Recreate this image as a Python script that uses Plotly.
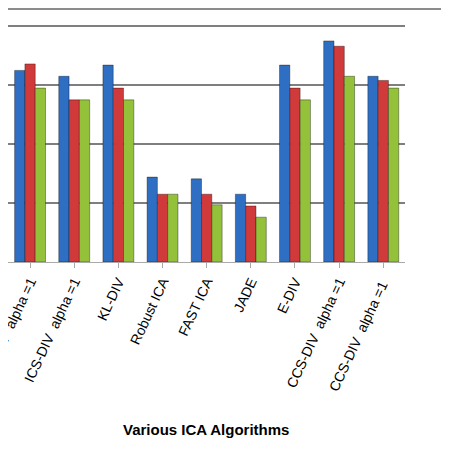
import plotly.graph_objects as go

categories = ["CS-DIV  alpha =1", "ICS-DIV  alpha =1", "KL-DIV", "Robust ICA", "FAST ICA",
              "JADE", "E-DIV", "CCS-DIV  alpha =1", "CCS-DIV  alpha =1 "]
s1 = [3.25, 3.15, 3.34, 1.44, 1.41, 1.15, 3.34, 3.75, 3.15]
s2 = [3.36, 2.75, 2.95, 1.15, 1.15, 0.95, 2.95, 3.66, 3.08]
s3 = [2.95, 2.75, 2.75, 1.15, 0.97, 0.76, 2.75, 3.15, 2.95]
names = ["Series1", "Series2", "Series3"]
colors = ["#2e6fc4", "#d03a3a", "#94c13a"]

fig = go.Figure()
for n, v, c in zip(names, [s1, s2, s3], colors):
    fig.add_bar(x=categories, y=v, name=n, marker=dict(color=c, line=dict(color="rgba(0,0,0,0.35)", width=1)))

fig.update_layout(
    width=449, height=449, barmode="group", bargap=0.3, bargroupgap=0.0,
    margin=dict(l=0, r=0, t=17, b=195, autoexpand=False),
    plot_bgcolor="white", paper_bgcolor="white",
    font=dict(family="Liberation Sans", size=12, color="black"),
    xaxis=dict(domain=[0, 0.885], range=[-0.5, 8.5], tickangle=-65, showline=True,
               linecolor="#aaaaaa", ticks="outside", tickcolor="#aaaaaa", automargin=False,
               tickfont=dict(size=14)),
    yaxis=dict(range=[0, 4.02], dtick=1, showticklabels=False, gridcolor="#7f7f7f",
               gridwidth=1.5, zeroline=False, automargin=False),
    legend=dict(x=0.955, y=0.88, xanchor="left", yanchor="top", font=dict(size=12),
                tracegroupgap=20, itemwidth=30),
    showlegend=True,
    shapes=[dict(type="line", xref="paper", yref="paper", x0=-0.1, x1=1.1, y0=1.07, y1=1.07,
                 line=dict(color="#8c8c8c", width=3))],
    annotations=[dict(text="<b>Various ICA Algorithms</b>", xref="paper", yref="paper",
                      x=0.44, y=-0.75, showarrow=False, font=dict(size=15))],
)
fig.write_html("out.html")
